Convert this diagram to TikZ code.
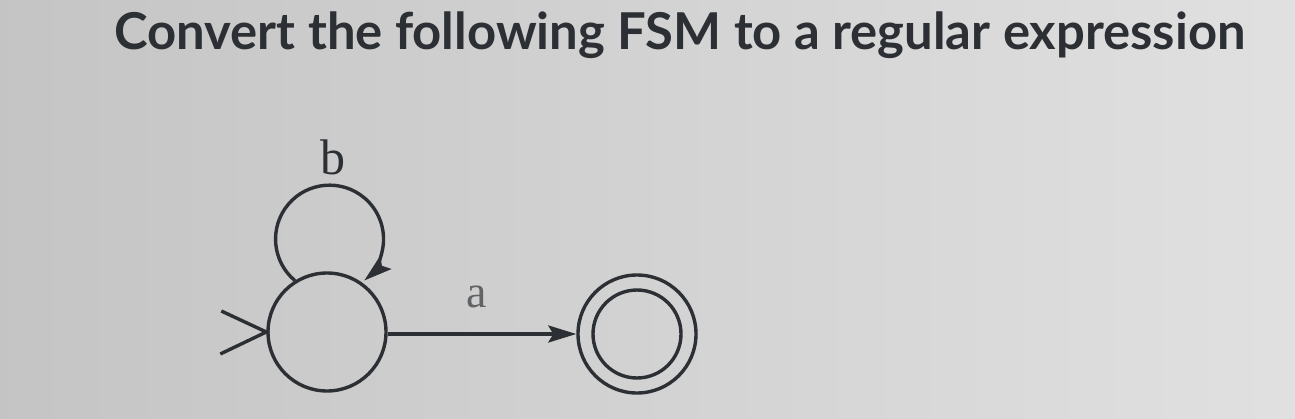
\documentclass[tikz,border=0pt]{standalone}
\usepackage{xcolor}
\usepackage{fontspec}
\usepackage{tikz}
\usetikzlibrary{arrows.meta,positioning,calc}
\setmainfont{Liberation Serif}
\newfontfamily\titlefont{Lato}
\definecolor{inkgray}{RGB}{44,48,52}

\begin{document}
\begin{tikzpicture}[x=1pt,y=1pt,
    state/.style={circle, draw=inkgray, line width=3.4pt, minimum size=118pt, inner sep=0pt},
    trans/.style={draw=inkgray, line width=3.4pt, -{Stealth[length=28pt,width=17pt,inset=5pt]}},
    sym/.style={font=\fontsize{50}{50}\selectfont}]
            % Nền xám của ảnh chụp
            \shade[left color=black!23, right color=black!12] (0,0) rectangle (1295,418);
            \useasboundingbox (0,0) rectangle (1295,418);

            % Tiêu đề
            \node[anchor=base, text=inkgray, inner sep=0pt] (title) at (680,368)
                {\titlefont\bfseries\fontsize{50.8}{52}\selectfont Convert the following FSM to a regular expression};

            % Các trạng thái
            \node[state] (q0) at (327,86) {};
            \node[state] (q1) at (637,84) {};
            \node[state, minimum size=88pt] (q1in) at (q1) {};

            % Mũi tên bắt đầu (chỉ có đầu nhọn)
            \coordinate (in1) at ($(q0.west)+(-45,21)$);
            \coordinate (in2) at ($(q0.west)+(-46,-22)$);
            \draw[inkgray, line width=3.4pt] (in1) -- (q0.west) -- (in2);

            % Vòng lặp b
            \draw[trans] (q0.122) arc[start angle=230, end angle=-50, radius=54];
            \node[sym, text=inkgray] (lb) at (333,261) {b};

            % Chuyển a
            \draw[trans] (q0.east |- q1.west) -- (q1.west);
            \node[sym, text=inkgray!75, font=\fontsize{46}{46}\selectfont] (la) at (477,121) {a};
\end{tikzpicture}
\end{document}
